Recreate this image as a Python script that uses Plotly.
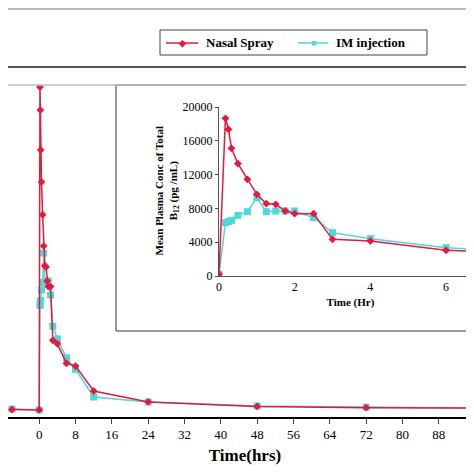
import plotly.graph_objects as go

# Main chart data (hours)
t_main = [-6, 0, 0.17, 0.25, 0.33, 0.5, 0.75, 1, 1.25, 1.5, 1.75, 2, 2.5, 3, 4, 6, 8, 12, 24, 48, 72, 96]
nasal = [420, 400, 18660, 17360, 15110, 13300, 11440, 9670, 8560, 8480, 7690, 7380, 7380, 4340, 4140, 3040, 2880, 1470, 850, 600, 530, 500]
im = [450, 400, 6310, 6430, 6590, 7180, 7610, 9270, 7610, 7690, 7690, 7690, 6900, 5130, 4420, 3350, 2700, 1130, 850, 620, 560, 500]
x_ticks = list(range(-8, 97, 8))

# Inset data (first 8 hours)
t_in = [0, 0.17, 0.25, 0.33, 0.5, 0.75, 1, 1.25, 1.5, 1.75, 2, 2.5, 3, 4, 6, 8]
nasal_in = [200, 18660, 17360, 15110, 13300, 11440, 9670, 8560, 8480, 7690, 7380, 7380, 4340, 4140, 3040, 2750]
im_in = [200, 6310, 6430, 6590, 7180, 7610, 9270, 7610, 7690, 7690, 7690, 6900, 5130, 4420, 3350, 2850]
y_in_ticks = [0, 4000, 8000, 12000, 16000, 20000]

RED = "#e8173c"
CYAN = "#4fd8d8"
W = 474
def fx(px): return px / W
def fy(py): return 1 - py / W

font = dict(family="Liberation Serif", color="black")
fig = go.Figure()
fig.add_trace(go.Scatter(x=t_main, y=im, mode="lines+markers", name="IM injection",
                         line=dict(color=CYAN, width=1.5), marker=dict(symbol="square", size=7, color=CYAN),
                         showlegend=False))
fig.add_trace(go.Scatter(x=t_main, y=nasal, mode="lines+markers", name="Nasal Spray",
                         line=dict(color=RED, width=1.5), marker=dict(symbol="diamond", size=6, color=RED),
                         showlegend=False))
fig.add_trace(go.Scatter(x=t_in, y=im_in, mode="lines+markers", xaxis="x2", yaxis="y2",
                         line=dict(color=CYAN, width=1.5), marker=dict(symbol="square", size=7, color=CYAN),
                         showlegend=False))
fig.add_trace(go.Scatter(x=t_in, y=nasal_in, mode="lines+markers", xaxis="x2", yaxis="y2",
                         line=dict(color=RED, width=1.5), marker=dict(symbol="diamond", size=6, color=RED),
                         showlegend=False))

shapes = [
    dict(type="line", xref="paper", yref="paper", x0=0, x1=1, y0=fy(1), y1=fy(1), line=dict(color="#bbbbbb", width=2)),
    dict(type="line", xref="paper", yref="paper", x0=0, x1=1, y0=fy(59), y1=fy(59), line=dict(color="#555555", width=2)),
    dict(type="line", xref="paper", yref="paper", x0=0, x1=1, y0=fy(77), y1=fy(77), line=dict(color="#bbbbbb", width=1.5)),
    dict(type="rect", xref="paper", yref="paper", x0=fx(152), x1=fx(419), y0=fy(47), y1=fy(22),
         line=dict(color="#444444", width=1), fillcolor="white"),
    dict(type="rect", xref="paper", yref="paper", x0=fx(108), x1=fx(476), y0=fy(323), y1=fy(77),
         line=dict(color="#333333", width=1), fillcolor="white", layer="below"),
    dict(type="line", xref="paper", yref="paper", x0=fx(158), x1=fx(190), y0=fy(35), y1=fy(35), line=dict(color=RED, width=1.5)),
    dict(type="line", xref="paper", yref="paper", x0=fx(290), x1=fx(320), y0=fy(35), y1=fy(35), line=dict(color=CYAN, width=1.5)),
]
annotations = [
    dict(text="<b>Nasal Spray</b>", xref="paper", yref="paper", x=fx(196), y=fy(35), xanchor="left", yanchor="middle",
         showarrow=False, font=dict(size=13, **font)),
    dict(text="<b>IM injection</b>", xref="paper", yref="paper", x=fx(326), y=fy(35), xanchor="left", yanchor="middle",
         showarrow=False, font=dict(size=13, **font)),
    dict(text="<b>◆</b>", xref="paper", yref="paper", x=fx(174), y=fy(35), xanchor="center", yanchor="middle",
         showarrow=False, font=dict(size=9, color=RED)),
    dict(text="■", xref="paper", yref="paper", x=fx(305), y=fy(35), xanchor="center", yanchor="middle",
         showarrow=False, font=dict(size=9, color=CYAN)),
    dict(text="<b>Mean Plasma Conc of Total<br>B<sub>12</sub> (pg /mL)</b>", xref="paper", yref="paper",
         x=fx(142), y=fy(183), textangle=-90, showarrow=False, font=dict(size=11, **font)),
]

fig.update_layout(
    width=W, height=W, margin=dict(l=0, r=0, t=0, b=0, autoexpand=False),
    paper_bgcolor="white", plot_bgcolor="rgba(0,0,0,0)",
    shapes=shapes, annotations=annotations,
    xaxis=dict(domain=[0, 1], range=[-6.87, 97.5], tickvals=x_ticks, ticks="outside", ticklen=5,
               showline=True, linecolor="black", linewidth=1.5, showgrid=False, zeroline=False,
               automargin=False, tickfont=dict(size=13, **font),
               title=dict(text="<b>Time(hrs)</b>", font=dict(size=17, **font), standoff=8)),
    yaxis=dict(domain=[fy(409), fy(77)], range=[0, 18780], visible=False, automargin=False),
    xaxis2=dict(domain=[fx(211), 1], range=[0, 6.95], anchor="y2", tickvals=[0, 2, 4, 6],
                showline=True, linecolor="#555555", showgrid=False, zeroline=False, ticks="",
                automargin=False, tickfont=dict(size=12, **font),
                title=dict(text="<b>Time (Hr)</b>", font=dict(size=11, **font), standoff=4)),
    yaxis2=dict(domain=[fy(268), fy(99)], range=[0, 20000], anchor="x2", tickvals=y_in_ticks,
                tickformat="d", automargin=False,
                showline=True, linecolor="#555555", showgrid=False, zeroline=False, ticks="outside", ticklen=3,
                tickfont=dict(size=12, **font)),
)
fig.write_html("out.html")
